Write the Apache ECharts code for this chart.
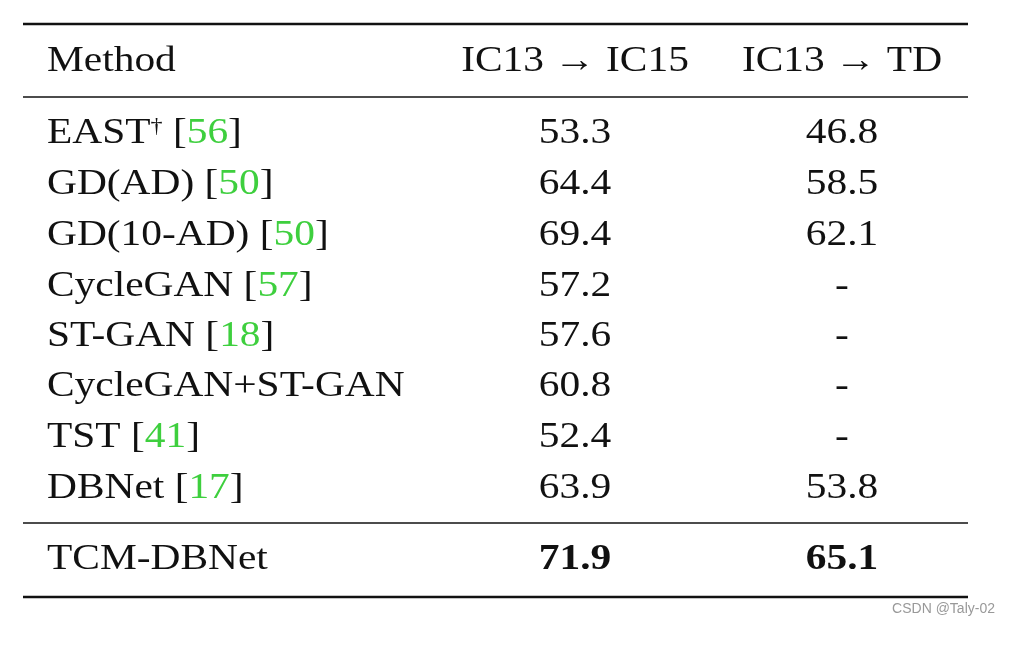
<!DOCTYPE html>
<html lang="en">
<head>
<meta charset="utf-8">
<script src="https://cdn.jsdelivr.net/npm/echarts@6/dist/echarts.min.js"></script>
<title>table</title>
</head>
<body>
<style>
    html, body, #main {
        width: 100%;
        height: 100%;
        margin: 0;
        background: #fff;
    }
</style>
<div id='main'></div>
<script>
    var headers = ['Method', 'IC13 \u2192 IC15', 'IC13 \u2192 TD'];
    var methods = ['EAST', 'GD(AD)', 'GD(10-AD)', 'CycleGAN', 'ST-GAN', 'CycleGAN+ST-GAN', 'TST', 'DBNet'];
    var cites = ['56', '50', '50', '57', '18', '', '41', '17'];
    var ic15 = ['53.3', '64.4', '69.4', '57.2', '57.6', '60.8', '52.4', '63.9'];
    var td = ['46.8', '58.5', '62.1', '-', '-', '-', '-', '53.8'];
    var oursName = 'TCM-DBNet';
    var oursIc15 = '71.9';
    var oursTd = '65.1';

    var chart = echarts.init(document.getElementById('main'));
    var font = '"Liberation Serif", "Times New Roman", serif';
    var fs = 36;
    var sx = 1.15;
    var green = '#3ecf3e';
    var colX = [47, 575, 842];
    var rowY = [134, 185, 236, 287, 337, 387, 438, 489];

    function txt(x, y, s, align, weight, rich) {
        return {
            type: 'text', x: x, y: y, scaleX: sx,
            style: {
                text: s, fill: '#111', font: (weight || 'normal') + ' ' + fs + 'px ' + font,
                align: align, verticalAlign: 'middle', rich: rich
            }
        };
    }
    function rule(y, w) {
        return { type: 'rect', shape: { x: 23, y: y - w / 2, width: 945, height: w }, style: { fill: '#111' } };
    }
    var rich = {
        sup: { fontSize: 21, fontFamily: font, fill: '#111', verticalAlign: 'top', padding: [0, 0, 15, 0] },
        cite: { fontSize: fs, fontFamily: font, fill: green },
        n: { fontSize: fs, fontFamily: font, fill: '#111' }
    };

    var els = [rule(24, 2.5), rule(97, 1.5), rule(523, 1.5), rule(597, 2.5)];
    els.push(txt(colX[0], 62, headers[0], 'left'));
    els.push(txt(colX[1], 62, headers[1], 'center'));
    els.push(txt(colX[2], 62, headers[2], 'center'));
    methods.forEach(function (m, i) {
        var s = '{n|' + m + '}';
        if (i === 0) s += '{sup|\u2020}';
        if (cites[i]) s += '{n| [}{cite|' + cites[i] + '}{n|]}';
        els.push(txt(colX[0], rowY[i], s, 'left', 'normal', rich));
        els.push(txt(colX[1], rowY[i], ic15[i], 'center'));
        els.push(txt(colX[2], rowY[i], td[i], 'center'));
    });
    els.push(txt(colX[0], 560, oursName, 'left'));
    els.push(txt(colX[1], 560, oursIc15, 'center', 'bold'));
    els.push(txt(colX[2], 560, oursTd, 'center', 'bold'));
    els.push({
        type: 'text', x: 995, y: 609,
        style: { text: 'CSDN @Taly-02', fill: '#999', font: '14px "Liberation Sans", sans-serif', align: 'right', verticalAlign: 'middle' }
    });

    chart.setOption({ animation: false, graphic: els });
    window.onresize = chart.resize;
</script>
</body>
</html>
